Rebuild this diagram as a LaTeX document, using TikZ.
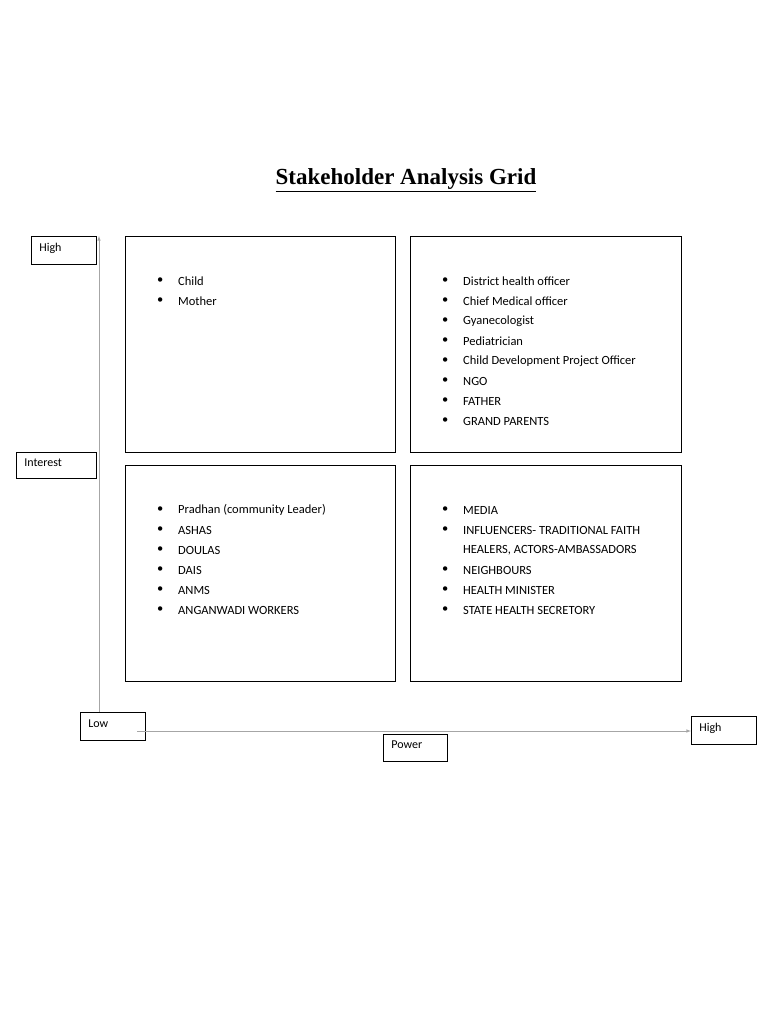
\documentclass[tikz,border=0pt]{standalone}
\usepackage{fontspec}
\setmainfont{Carlito}
\newfontfamily\titlefont{Liberation Serif}
\begin{document}
\begin{tikzpicture}[x=1pt,y=-1pt,
  quad/.style={draw,line width=0.8pt},
  lbl/.style={draw,line width=0.7pt,anchor=north west,inner sep=0pt,font=\fontsize{12}{14}\selectfont},
  item/.style={anchor=west,inner sep=0pt,font=\fontsize{12.5}{14}\selectfont},
  axis/.style={draw=gray!70,line width=0.6pt,-latex}]
\useasboundingbox (0,0) rectangle (768,1024);
\node[font=\titlefont\bfseries\fontsize{23}{26}\selectfont] (title) at (406,180) {\underline{Stakeholder Analysis Grid}};
\draw[quad] (125,236) rectangle (395,452);
\draw[quad] (410,236) rectangle (681,452);
\draw[quad] (125,465) rectangle (395,681);
\draw[quad] (410,465) rectangle (681,681);
% labels
\node[lbl,minimum width=57pt,minimum height=28pt,text width=49pt,align=left,inner xsep=8pt] (hy) at (31,236) {\raisebox{6pt}{High}};
\node[lbl,minimum width=72pt,minimum height=26pt,text width=64pt,align=left,inner xsep=8pt] (int) at (16,452) {\raisebox{6pt}{Interest}};
\node[lbl,minimum width=57pt,minimum height=28pt,text width=49pt,align=left,inner xsep=8pt] (low) at (80,712) {\raisebox{6pt}{Low}};
\node[lbl,minimum width=57pt,minimum height=28pt,text width=49pt,align=left,inner xsep=8pt] (hx) at (691,716) {\raisebox{6pt}{High}};
\node[lbl,minimum width=56pt,minimum height=27pt,text width=48pt,align=left,inner xsep=8pt] (pow) at (383,734) {\raisebox{6pt}{Power}};
\coordinate (ytop) at (99,236);
\coordinate (ybot) at (99,712);
\coordinate (xs) at (137,731);
\coordinate (xe) at (691,731);
\draw[axis] (ybot) -- (ytop);
\draw[axis] (xs) -- (xe);
% items
\newcommand{\items}[3]{%
  \foreach \t [count=\i from 0] in {#3} {
    \node[item] at (#1+3,#2+20*\i) {\textbullet};
    \node[item] at (#1+24,#2+20*\i) {\t};
  }}
\items{154}{281}{Child,Mother}
\items{439}{281}{District health officer,Chief Medical officer,Gyanecologist,Pediatrician,Child Development Project Officer,NGO,FATHER,GRAND PARENTS}
\items{154}{510}{Pradhan (community Leader),ASHAS,DOULAS,DAIS,ANMS,ANGANWADI WORKERS}
\foreach \t/\y in {MEDIA/510,{INFLUENCERS- TRADITIONAL FAITH}/530,NEIGHBOURS/570,HEALTH MINISTER/590,STATE HEALTH SECRETORY/610}
  {\node[item] at (442,\y) {\textbullet};}
\foreach \t/\y in {MEDIA/510,{INFLUENCERS- TRADITIONAL FAITH}/530,{HEALERS, ACTORS-AMBASSADORS}/550,NEIGHBOURS/570,HEALTH MINISTER/590,STATE HEALTH SECRETORY/610}
  {\node[item] at (463,\y) {\t};}
\end{tikzpicture}
\end{document}
